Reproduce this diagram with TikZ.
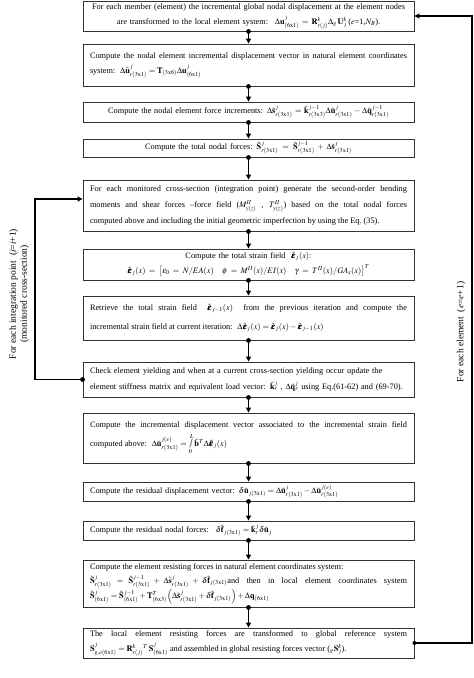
\documentclass[tikz,border=0pt]{standalone}
\usepackage{amsmath}
\usepackage{mathptmx}
\usepackage{bm}
\usepackage{fontspec}
\setmainfont{Liberation Serif}
\usetikzlibrary{arrows.meta,calc}
\newcommand{\sz}[1]{\mathrm{(#1)}}
\hyphenpenalty=10000
\exhyphenpenalty=10000
\tolerance=10000
\begin{document}
\begin{tikzpicture}[x=1pt,y=-1pt,
  box/.style={draw=black!80,line width=0.9pt,minimum width=331pt,text width=317pt,
    inner xsep=7pt,inner ysep=2pt,font=\fontsize{8.3}{15}\selectfont,anchor=center,align=justify},
  conn/.style={line width=1.1pt,-{Triangle[width=5pt,length=5pt]}},
  dotc/.style={fill=black},
  lab/.style={font=\fontsize{9.5}{11}\selectfont,rotate=90,align=center}]
\useasboundingbox (0,0) rectangle (474,678);

\node[box,align=center,minimum height=30pt] (b1) at (248.5,16)
 {For each member (element) the incremental global nodal displacement at the element nodes\\are transformed to the local element system: \ $\Delta\mathbf{u}^{j}_{\sz{6x1}}=\mathbf{R}^{k}_{r(j)}\Delta_{g}\,\mathbf{U}^{k}_{j}$\,($e$=1,$N_{B}$).};

\node[box,minimum height=42pt] (b2) at (248.5,65)
 {Compute the nodal element incremental displacement vector in natural element coordinates system: \ $\Delta\tilde{\mathbf{u}}^{j}_{r\sz{3x1}}=\mathbf{T}_{\sz{3x6}}\Delta\mathbf{u}^{j}_{\sz{6x1}}$};

\node[box,align=center,minimum height=20pt] (b3) at (248.5,112)
 {Compute the nodal element force increments: $\Delta\tilde{\mathbf{s}}^{j}_{r\sz{3x1}}=\tilde{\mathbf{k}}^{j-1}_{r\sz{3x3}}\Delta\tilde{\mathbf{u}}^{j}_{r\sz{3x1}}-\Delta\tilde{\mathbf{q}}^{j-1}_{r\sz{3x1}}$};

\node[box,align=center,minimum height=18pt] (b4) at (248.5,148)
 {Compute the total nodal forces: $\tilde{\mathbf{S}}^{j}_{r\sz{3x1}}=\tilde{\mathbf{S}}^{j-1}_{r\sz{3x1}}+\Delta\tilde{\mathbf{s}}^{j}_{r\sz{3x1}}$};

\node[box,minimum height=51pt,font=\fontsize{8.3}{16}\selectfont] (b5) at (248.5,205.5)
 {For each monitored cross-section (integration point) generate the second-order bending\linebreak moments and shear forces --force field ($M^{II}_{y(z)}$ , $T^{II}_{y(z)}$) based on the total nodal forces\linebreak computed above and including the initial geometric imperfection by using the Eq.~(35).};

\node[box,align=center,minimum height=31pt] (b6) at (248.5,264.5)
 {Compute the total strain field \ $\tilde{\bm{\varepsilon}}_{j}(x)$:\\
 $\tilde{\bm{\varepsilon}}_{j}(x)=\bigl[\varepsilon_{0}=N/EA(x)\quad\phi=M^{II}(x)/EI(x)\quad\gamma=T^{II}(x)/GA_{s}(x)\bigr]^{T}$};

\node[box,minimum height=44pt,font=\fontsize{8.3}{19}\selectfont] (b7) at (248.5,318)
 {Retrieve the total strain field \ $\tilde{\bm{\varepsilon}}_{j-1}(x)$ \ from the previous iteration and compute the\linebreak incremental strain field at current iteration: \ $\Delta\tilde{\bm{\varepsilon}}_{j}(x)=\tilde{\bm{\varepsilon}}_{j}(x)-\tilde{\bm{\varepsilon}}_{j-1}(x)$};

\node[box,align=left,minimum height=35pt,font=\fontsize{8.3}{16}\selectfont] (b8) at (248.5,379.5)
 {Check element yielding and when at a current cross-section yielding occur update the\\element stiffness matrix and equivalent load vector: $\tilde{\mathbf{k}}^{j}_{r}$ , $\Delta\tilde{\mathbf{q}}^{j}_{r}$ using Eq.(61-62) and (69-70).};

\node[box,minimum height=50pt,font=\fontsize{8.3}{19}\selectfont] (b9) at (248.5,438)
 {Compute the incremental displacement vector associated to the incremental strain field\linebreak computed above: \ $\Delta\tilde{\mathbf{u}}^{j(e)}_{r\sz{3x1}}=\int\limits_{0}^{L}\tilde{\mathbf{b}}^{T}\Delta\tilde{\bm{\varepsilon}}_{j}(x)$};

\node[box,align=left,minimum height=19pt] (b10) at (248.5,491.5)
 {Compute the residual displacement vector: $\delta\tilde{\mathbf{u}}_{j\sz{3x1}}=\Delta\tilde{\mathbf{u}}^{j}_{r\sz{3x1}}-\Delta\tilde{\mathbf{u}}^{j(e)}_{r\sz{3x1}}$};

\node[box,align=left,minimum height=19pt] (b11) at (248.5,530.5)
 {Compute the residual nodal forces: \ $\delta\tilde{\mathbf{f}}_{j\sz{3x1}}=\tilde{\mathbf{k}}^{j}_{r}\delta\tilde{\mathbf{u}}_{j}$};

\node[box,minimum height=47pt,font=\fontsize{8.3}{14}\selectfont] (b12) at (248.5,583.5)
 {Compute the element resisting forces in natural element coordinates system:\par
 $\tilde{\mathbf{S}}^{j}_{r\sz{3x1}}=\tilde{\mathbf{S}}^{j-1}_{r\sz{3x1}}+\Delta\tilde{\mathbf{s}}^{j}_{r\sz{3x1}}+\delta\tilde{\mathbf{f}}_{j\sz{3x1}}$and then in local element coordinates system\linebreak $\tilde{\mathbf{S}}^{j}_{\sz{6x1}}=\tilde{\mathbf{S}}^{j-1}_{\sz{6x1}}+\mathbf{T}^{T}_{\sz{6x3}}\Bigl(\Delta\tilde{\mathbf{s}}^{j}_{r\sz{3x1}}+\delta\tilde{\mathbf{f}}_{j\sz{3x1}}\Bigr)+\Delta\mathbf{q}_{\sz{6x1}}$};

\node[box,minimum height=30pt,font=\fontsize{8.3}{15}\selectfont] (b13) at (248.5,643)
 {The local element resisting forces are transformed to global reference system\linebreak $\mathbf{S}^{j}_{g,e\sz{6x1}}=\mathbf{R}^{k}_{r(j)}{}^{T}\,\mathbf{S}^{j}_{\sz{6x1}}$ and assembled in global resisting forces vector (${}_{g}\mathbf{S}^{k}_{j}$).};

\foreach \a/\b in {b1/b2,b2/b3,b3/b4,b4/b5,b5/b6,b6/b7,b7/b8,b8/b9,b9/b10,b10/b11,b11/b12,b12/b13}{
  \draw[conn] (\a.south) -- (\b.north);
  \fill[dotc] (\a.south) circle[radius=2.4pt];
}

% left loop
\coordinate (lx) at (35,0);
\coordinate (lt) at (35,199);
\draw[conn] (b8.west) -- (b8.west -| lx) -- (lt) -- (lt -| b5.west);
\fill[dotc] (b8.west) circle[radius=2.4pt];
\node[lab] (llab) at (19,294) {For each integration point \ ($i$=$i$+1)\\(monitored cross-section)};

% right loop
\coordinate (rx) at (472,0);
\draw[conn] (b13.east) -- (b13.east -| rx) -- (b1.east -| rx) -- (b1.east);
\fill[dotc] (b13.east) circle[radius=2.0pt];
\node[lab] (rlab) at (461,332) {For each element \ ($e$=$e$+1)};
\end{tikzpicture}
\end{document}
